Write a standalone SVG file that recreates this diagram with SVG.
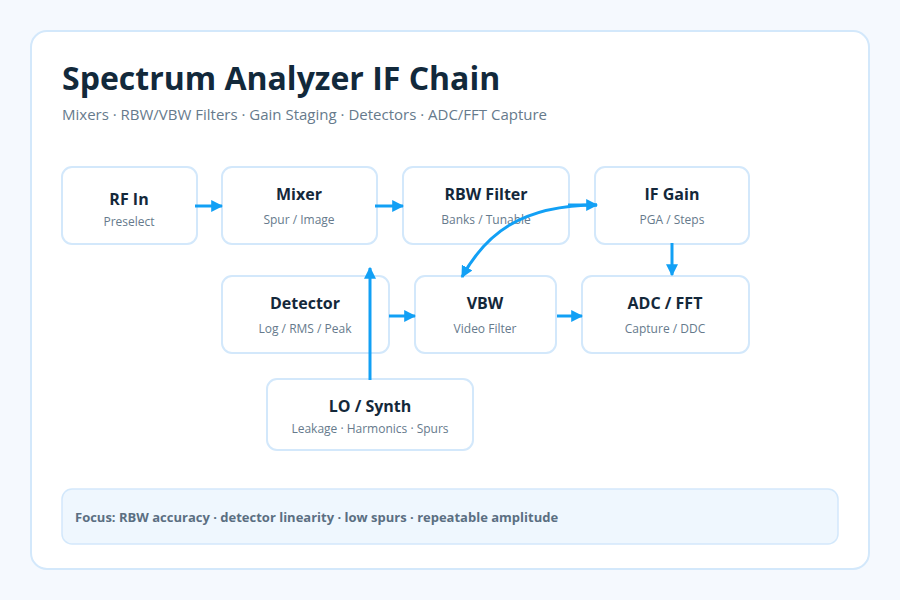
<svg xmlns="http://www.w3.org/2000/svg" width="900" height="600" viewBox="0 0 900 600">
<style>
.n{fill:#fff;stroke:#d3e8fb;stroke-width:2}
.t{font-family:"Open Sans","Noto Sans",sans-serif;font-size:16px;font-weight:bold;fill:#14283a;text-anchor:middle}
.s{font-family:"Open Sans","Noto Sans",sans-serif;font-size:12px;fill:#667a8c;text-anchor:middle}
.e{fill:none;stroke:#12a0f5;stroke-width:3;marker-end:url(#a)}
</style>
<defs><marker id="a" viewBox="0 0 10 10" refX="9" refY="5" markerWidth="4" markerHeight="4" orient="auto"><path d="M0,0L10,5L0,10z" fill="#12a0f5"/></marker></defs>
<rect width="900" height="600" fill="#f5f9fe"/>
<rect x="31" y="31" width="838" height="538" rx="16" fill="#fff" stroke="#d3e8fb" stroke-width="2"/>
<text x="62" y="90" font-family="'Open Sans','Noto Sans',sans-serif" font-size="32" font-weight="bold" fill="#12293b">Spectrum Analyzer IF Chain</text>
<text x="62" y="120" font-family="'Open Sans','Noto Sans',sans-serif" font-size="15" fill="#667a8c">Mixers · RBW/VBW Filters · Gain Staging · Detectors · ADC/FFT Capture</text>
<g id="rf"><rect class="n" x="62" y="167" width="135" height="77" rx="10"/><text class="t" x="129" y="205">RF In</text><text class="s" x="129" y="226">Preselect</text></g>
<g id="mixer"><rect class="n" x="222" y="167" width="155" height="77" rx="10"/><text class="t" x="299" y="200">Mixer</text><text class="s" x="299" y="224">Spur / Image</text></g>
<g id="rbw"><rect class="n" x="403" y="167" width="166" height="77" rx="10"/><text class="t" x="486" y="200">RBW Filter</text><text class="s" x="486" y="224">Banks / Tunable</text></g>
<g id="ifgain"><rect class="n" x="595" y="167" width="154" height="77" rx="10"/><text class="t" x="672" y="200">IF Gain</text><text class="s" x="672" y="224">PGA / Steps</text></g>
<g id="detector"><rect class="n" x="222" y="276" width="167" height="77" rx="10"/><text class="t" x="305" y="309">Detector</text><text class="s" x="305" y="333">Log / RMS / Peak</text></g>
<g id="vbw"><rect class="n" x="415" y="276" width="141" height="77" rx="10"/><text class="t" x="485" y="309">VBW</text><text class="s" x="485" y="333">Video Filter</text></g>
<g id="adc"><rect class="n" x="582" y="276" width="167" height="77" rx="10"/><text class="t" x="665" y="309">ADC / FFT</text><text class="s" x="665" y="333">Capture / DDC</text></g>
<g id="lo"><rect class="n" x="267" y="379" width="206" height="71" rx="10"/><text class="t" x="370" y="412">LO / Synth</text><text class="s" x="370" y="433">Leakage · Harmonics · Spurs</text></g>
<g id="edges">
<path class="e" d="M195,206H222"/>
<path class="e" d="M375,206H403"/>
<path class="e" d="M568,205H597"/>
<path class="e" d="M597,205C520,205 485,235 462,277"/>
<path class="e" d="M672,243V275"/>
<path class="e" d="M389,316H415"/>
<path class="e" d="M557,316H582"/>
<path class="e" d="M370,380V268"/>
</g>
<g id="focus"><rect x="62" y="489" width="776" height="55" rx="10" fill="#eff7fe" stroke="#d3e8fb" stroke-width="1.5"/><text x="75" y="522" font-family="'Open Sans','Noto Sans',sans-serif" font-size="13" font-weight="bold" fill="#5b6f82">Focus: RBW accuracy · detector linearity · low spurs · repeatable amplitude</text></g>
</svg>
